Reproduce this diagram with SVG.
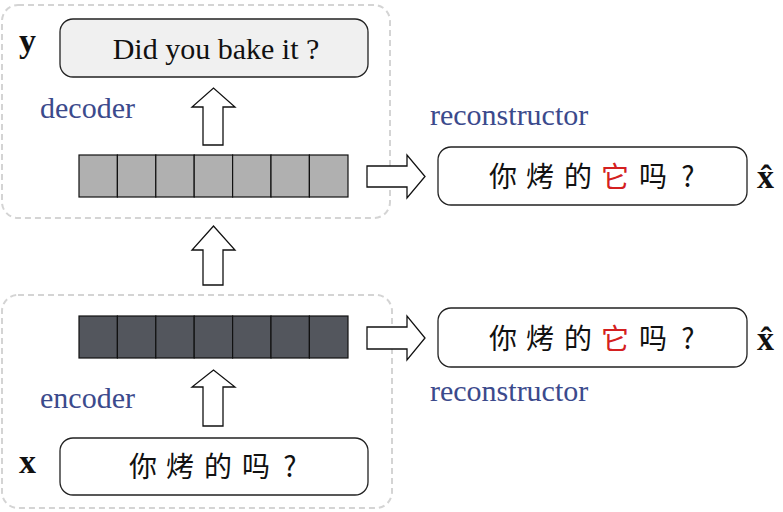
<svg xmlns="http://www.w3.org/2000/svg" width="783" height="512" viewBox="0 0 783 512">
<defs>
<style>
.grp{fill:none;stroke:#d4d4d4;stroke-width:2;stroke-dasharray:6 4}
.box{fill:#fff;stroke:#222;stroke-width:1.3}
.cell{stroke:#111;stroke-width:1.2}
.arr{fill:#fff;stroke:#111;stroke-width:1.3;stroke-linejoin:miter}
.lbl{font-family:"Liberation Serif",serif;font-size:30px;fill:#3b4a8c}
.en{font-family:"Liberation Serif",serif;font-size:30px;fill:#111}
.zh{font-family:"Noto Sans CJK SC",sans-serif;font-size:28px;fill:#111;text-anchor:middle}
.red{fill:#d42020}
.var{font-family:"Liberation Serif",serif;font-weight:bold;font-size:34px;fill:#111}
</style>
</defs>
<rect class="grp" x="2" y="5" width="388" height="213" rx="16"/>
<rect class="grp" x="2" y="295" width="390" height="213" rx="16"/>

<g id="y-label"><text class="var" x="19" y="52">y</text></g>
<g id="y-box">
<rect x="60" y="19" width="308" height="58" rx="13" fill="#f0f0f0" stroke="#222" stroke-width="1.3"/>
<text class="en" x="216" y="59" text-anchor="middle">Did you bake it ?</text>
</g>
<g id="decoder-label"><text class="lbl" x="40" y="118">decoder</text></g>

<g id="dec-bar">
<rect class="cell" x="79" y="155" width="38.4" height="42" fill="#b0b0b0"/>
<rect class="cell" x="117.4" y="155" width="38.4" height="42" fill="#b0b0b0"/>
<rect class="cell" x="155.8" y="155" width="38.4" height="42" fill="#b0b0b0"/>
<rect class="cell" x="194.2" y="155" width="38.4" height="42" fill="#b0b0b0"/>
<rect class="cell" x="232.6" y="155" width="38.4" height="42" fill="#b0b0b0"/>
<rect class="cell" x="271" y="155" width="38.4" height="42" fill="#b0b0b0"/>
<rect class="cell" x="309.4" y="155" width="38.6" height="42" fill="#b0b0b0"/>
</g>

<g id="enc-bar">
<rect class="cell" x="79" y="316" width="38.4" height="42" fill="#53565d"/>
<rect class="cell" x="117.4" y="316" width="38.4" height="42" fill="#53565d"/>
<rect class="cell" x="155.8" y="316" width="38.4" height="42" fill="#53565d"/>
<rect class="cell" x="194.2" y="316" width="38.4" height="42" fill="#53565d"/>
<rect class="cell" x="232.6" y="316" width="38.4" height="42" fill="#53565d"/>
<rect class="cell" x="271" y="316" width="38.4" height="42" fill="#53565d"/>
<rect class="cell" x="309.4" y="316" width="38.6" height="42" fill="#53565d"/>
</g>

<g id="recon-top-label"><text class="lbl" x="430" y="125">reconstructor</text></g>
<g id="recon-top">
<rect class="box" x="438" y="147" width="309" height="58" rx="13"/>
<text class="zh" y="187"><tspan x="503">你</tspan><tspan x="540">烤</tspan><tspan x="578">的</tspan><tspan x="615" class="red">它</tspan><tspan x="653">吗</tspan><tspan x="688">?</tspan></text>
</g>
<g id="xhat-top"><text class="var" x="757" y="188">x̂</text></g>

<g id="recon-bottom">
<rect class="box" x="438" y="308" width="309" height="59" rx="13"/>
<text class="zh" y="349"><tspan x="503">你</tspan><tspan x="540">烤</tspan><tspan x="578">的</tspan><tspan x="615" class="red">它</tspan><tspan x="653">吗</tspan><tspan x="688">?</tspan></text>
</g>
<g id="xhat-bottom"><text class="var" x="757" y="350">x̂</text></g>
<g id="recon-bottom-label"><text class="lbl" x="430" y="401">reconstructor</text></g>

<g id="encoder-label"><text class="lbl" x="40" y="408">encoder</text></g>
<g id="x-label"><text class="var" x="19" y="473">x</text></g>
<g id="x-box">
<rect class="box" x="60" y="438" width="308" height="57" rx="13"/>
<text class="zh" y="477"><tspan x="143">你</tspan><tspan x="180">烤</tspan><tspan x="218">的</tspan><tspan x="256">吗</tspan><tspan x="290">?</tspan></text>
</g>

<g id="connectors">
<path class="arr" d="M203,145 V107 H192 L213.5,88 L235,107 H223 V145 Z"/>
<path class="arr" d="M203,285 V250 H192 L213.5,226 L235,250 H223 V285 Z"/>
<path class="arr" d="M203,426 V387 H192 L213.5,370 L235,387 H223 V426 Z"/>
<path class="arr" d="M367,166 H407 V155 L425,176.5 L407,198 V187 H367 Z"/>
<path class="arr" d="M367,327 H407 V316 L425,338 L407,360 V349 H367 Z"/>
</g>
</svg>
